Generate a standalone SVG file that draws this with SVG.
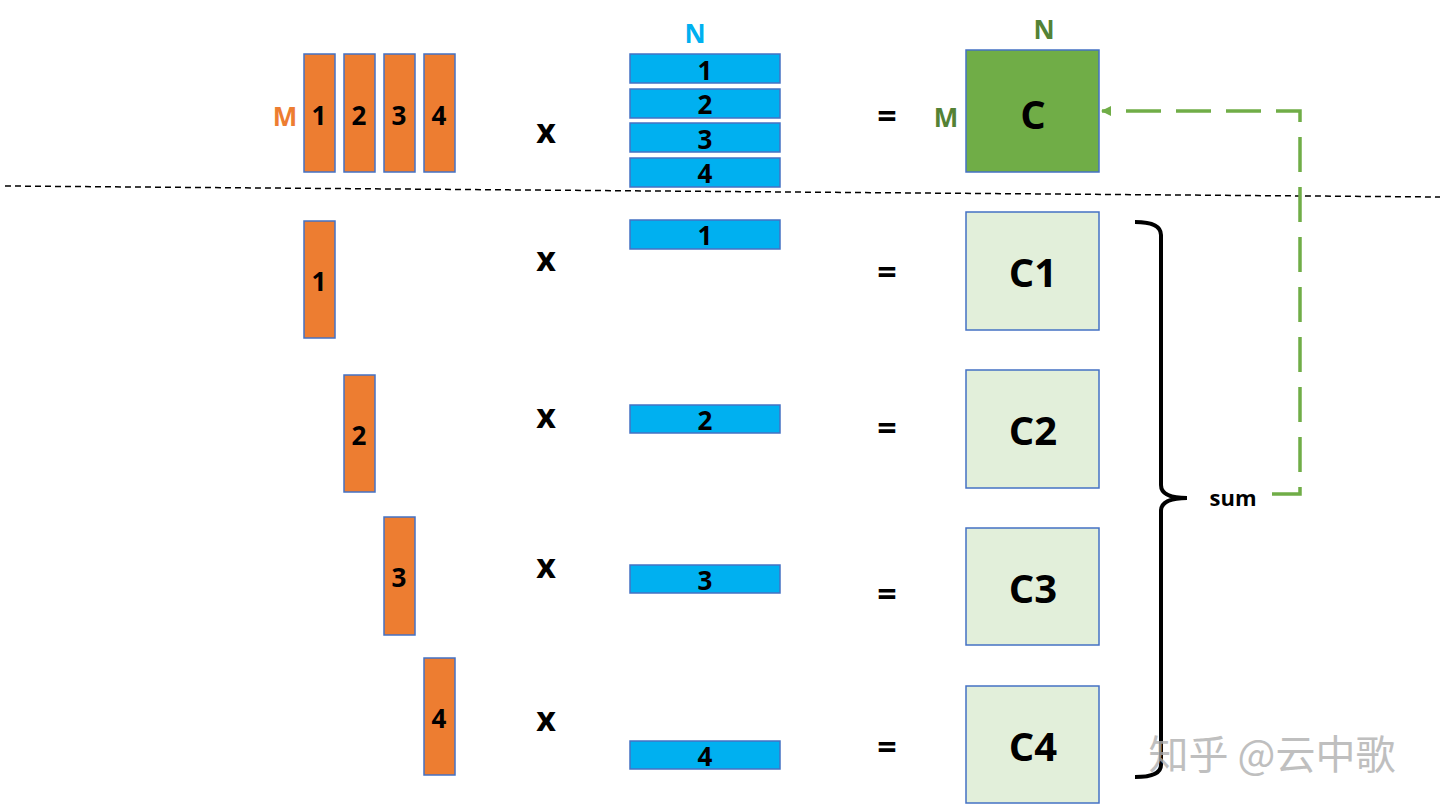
<svg xmlns="http://www.w3.org/2000/svg" width="1440" height="811" viewBox="0 0 1440 811">
<style>
.o{fill:#ed7d31;stroke:#4472c4;stroke-width:1.5}
.b{fill:#00b0f0;stroke:#4472c4;stroke-width:1.5}
.lc{fill:#e2efda;stroke:#4472c4;stroke-width:1.5}
text{font-family:"Open Sans","Liberation Sans",sans-serif;font-weight:bold;text-anchor:middle;dominant-baseline:central;fill:#000}
.n{font-size:26px}
.op{font-size:34px}
.big{font-size:40px}
</style>
<defs><marker id="ah" markerWidth="10" markerHeight="10" refX="9" refY="5" orient="auto" markerUnits="userSpaceOnUse"><path d="M0,0L10,5L0,10z" fill="#70ad47"/></marker></defs>
<rect width="1440" height="811" fill="#fff"/>
<g id="A-top">
<text x="285" y="116" class="n" style="fill:#ed7d31">M</text>
<rect class="o" x="304" y="54" width="31" height="118"/><text class="n" x="319" y="115">1</text>
<rect class="o" x="344" y="54" width="31" height="118"/><text class="n" x="359" y="115">2</text>
<rect class="o" x="384" y="54" width="31" height="118"/><text class="n" x="399" y="115">3</text>
<rect class="o" x="424" y="54" width="31" height="118"/><text class="n" x="439" y="115">4</text>
</g>
<g id="B-top">
<text x="695" y="33" class="n" style="fill:#00b0f0">N</text>
<rect class="b" x="630" y="54" width="150" height="29"/><text class="n" x="705" y="70">1</text>
<rect class="b" x="630" y="89" width="150" height="29"/><text class="n" x="705" y="104">2</text>
<rect class="b" x="630" y="123" width="150" height="29"/><text class="n" x="705" y="139">3</text>
<rect class="b" x="630" y="158" width="150" height="29"/><text class="n" x="705" y="173">4</text>
</g>
<g id="ops">
<text class="op" x="546" y="130">x</text><text class="op" x="887" y="115">=</text>
<text class="op" x="546" y="258">x</text><text class="op" x="887" y="271">=</text>
<text class="op" x="546" y="415">x</text><text class="op" x="887" y="427">=</text>
<text class="op" x="546" y="565">x</text><text class="op" x="887" y="593">=</text>
<text class="op" x="546" y="718">x</text><text class="op" x="887" y="746">=</text>
</g>
<g id="C-top">
<text x="1044" y="29" class="n" style="fill:#548235">N</text>
<text x="946" y="117" class="n" style="fill:#548235">M</text>
<rect x="966" y="50" width="133" height="122" fill="#70ad47" stroke="#4472c4" stroke-width="1.5"/>
<text class="big" x="1033" y="113">C</text>
</g>
<line x1="5" y1="186" x2="1440" y2="197" stroke="#000" stroke-width="1.5" stroke-dasharray="6,4"/>
<g id="row1"><rect class="o" x="304" y="221" width="31" height="117"/><text class="n" x="319" y="281">1</text>
<rect class="b" x="630" y="220" width="150" height="29"/><text class="n" x="705" y="235">1</text>
<rect class="lc" x="966" y="212" width="133" height="118"/><text class="big" x="1033" y="271">C1</text></g>
<g id="row2"><rect class="o" x="344" y="375" width="31" height="117"/><text class="n" x="359" y="435">2</text>
<rect class="b" x="630" y="405" width="150" height="28"/><text class="n" x="705" y="420">2</text>
<rect class="lc" x="966" y="370" width="133" height="118"/><text class="big" x="1033" y="429">C2</text></g>
<g id="row3"><rect class="o" x="384" y="517" width="31" height="118"/><text class="n" x="399" y="577">3</text>
<rect class="b" x="630" y="565" width="150" height="28"/><text class="n" x="705" y="580">3</text>
<rect class="lc" x="966" y="528" width="133" height="117"/><text class="big" x="1033" y="587">C3</text></g>
<g id="row4"><rect class="o" x="424" y="658" width="31" height="117"/><text class="n" x="439" y="718">4</text>
<rect class="b" x="630" y="741" width="150" height="28"/><text class="n" x="705" y="756">4</text>
<rect class="lc" x="966" y="686" width="133" height="117"/><text class="big" x="1033" y="745">C4</text></g>
<g id="connectors">
<path d="M1135,222 Q1161,222 1161,235 L1161,485 Q1161,498 1187,498 Q1161,498 1161,511 L1161,765 Q1161,777 1135,777" fill="none" stroke="#000" stroke-width="4"/>
<path d="M1272,494 L1300,494 L1300,111 L1102,111" fill="none" stroke="#70ad47" stroke-width="3.5" stroke-dasharray="35,15" marker-end="url(#ah)"/>
</g>
<text x="1233" y="497" style="font-size:22px">sum</text>
<text x="1272" y="752" style="font-size:40px;font-weight:normal;fill:#b0b0b0;font-family:'Noto Sans CJK SC',sans-serif;opacity:0.8">知乎 @云中歌</text>
</svg>
